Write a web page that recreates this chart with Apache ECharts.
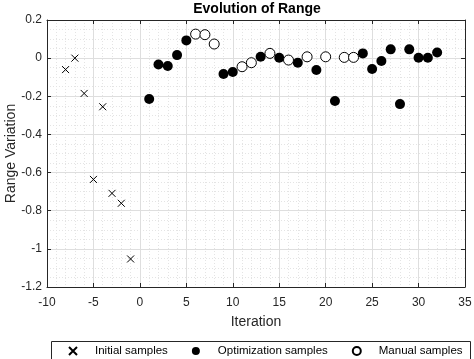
<!DOCTYPE html>
<html>
<head>
<meta charset="utf-8">
<script src="https://cdn.jsdelivr.net/npm/echarts@6/dist/echarts.min.js"></script>
<style>html,body{margin:0;padding:0;background:#fff}#c{width:474px;height:359px}</style>
</head>
<body>
<div id="c"></div>
<script>
var initX = [-8, -7, -6, -5, -4, -3, -2, -1];
var initY = [-0.06, 0.0, -0.185, -0.636, -0.255, -0.709, -0.761, -1.053];
var optX = [1, 2, 3, 4, 5, 9, 10, 13, 15, 17, 19, 21, 24, 25, 26, 27, 28, 29, 30, 31, 32];
var optY = [-0.214, -0.033, -0.041, 0.016, 0.093, -0.083, -0.073, 0.007, 0.002, -0.024, -0.062, -0.225, 0.025, -0.057, -0.015, 0.046, -0.241, 0.046, 0.002, 0.002, 0.030];
var manX = [6, 7, 8, 11, 12, 14, 16, 18, 20, 22, 23];
var manY = [0.126, 0.123, 0.074, -0.045, -0.024, 0.025, -0.010, 0.007, 0.007, 0.004, 0.004];
var seriesNames = ['Initial samples', 'Optimization samples', 'Manual samples'];
var titleText = 'Evolution of Range';
var xName = 'Iteration';
var yName = 'Range Variation';

function pairs(xs, ys) { return xs.map(function (x, i) { return [x, ys[i]]; }); }

var FONT = 'Liberation Sans, Arial, sans-serif';
var AX = '#262626';
var chart = echarts.init(document.getElementById('c'), null, { renderer: 'canvas' });

function xAxisDef(pos, labels) {
  return {
    type: 'value', position: pos, min: -10, max: 35, interval: 5,
    axisLine: { show: true, onZero: false, lineStyle: { color: AX, width: 1 } },
    axisTick: { show: true, inside: true, length: 4, lineStyle: { color: AX } },
    axisLabel: { show: labels, color: AX, fontSize: 12, fontFamily: FONT, margin: 10 },
    splitLine: { show: labels, lineStyle: { color: '#dedede', width: 1 } },
    minorTick: { show: false, splitNumber: 5 },
    minorSplitLine: { show: labels, lineStyle: { color: '#e4e4e4', type: [1, 2], width: 1 } },
    name: labels ? xName : '', nameLocation: 'middle', nameGap: 28, nameMoveOverlap: false,
    nameTextStyle: { color: AX, fontSize: 14, fontFamily: FONT }
  };
}
function yAxisDef(pos, labels) {
  return {
    type: 'value', position: pos, min: -1.2, max: 0.2, interval: 0.2,
    axisLine: { show: true, onZero: false, lineStyle: { color: AX, width: 1 } },
    axisTick: { show: true, inside: true, length: 4, lineStyle: { color: AX } },
    axisLabel: { show: labels, color: AX, fontSize: 12, fontFamily: FONT, margin: 5 },
    splitLine: { show: labels, lineStyle: { color: '#dedede', width: 1 } },
    minorTick: { show: false, splitNumber: 4 },
    minorSplitLine: { show: labels, lineStyle: { color: '#e4e4e4', type: [1, 2], width: 1 } },
    name: labels ? yName : '', nameLocation: 'middle', nameGap: 29, nameRotate: 90, nameMoveOverlap: false,
    nameTextStyle: { color: AX, fontSize: 14, fontFamily: FONT }
  };
}

var option = {
  backgroundColor: '#fff',
  animation: false,
  title: {
    text: titleText, left: 257, textAlign: 'center', top: 2, padding: 0,
    textStyle: { fontSize: 14, fontWeight: 'bold', color: '#000', fontFamily: FONT }
  },
  grid: { left: 47, right: 9, top: 20, bottom: 72, containLabel: false, outerBoundsMode: 'none' },
  xAxis: [xAxisDef('bottom', true), xAxisDef('top', false)],
  yAxis: [yAxisDef('left', true), yAxisDef('right', false)],
  legend: {
    left: 63, top: 340, itemWidth: 8, itemHeight: 8, itemGap: 24,
    data: seriesNames,
    textStyle: { fontSize: 11.5, color: '#000', fontFamily: FONT, padding: [0, 0, 0, 13] }
  },
  graphic: [{
    type: 'rect', left: 49, top: 339, shape: { width: 419, height: 30 },
    style: { fill: 'none', stroke: AX, lineWidth: 1 }, silent: true, z: 0
  }],
  series: [
    {
      name: seriesNames[0], type: 'scatter', data: pairs(initX, initY),
      symbol: 'path://M0,0L10,10M10,0L0,10', symbolSize: 7,
      itemStyle: { color: 'rgba(0,0,0,0)', borderColor: '#000', borderWidth: 1, opacity: 1 }
    },
    {
      name: seriesNames[1], type: 'scatter', data: pairs(optX, optY),
      symbol: 'circle', symbolSize: 10,
      itemStyle: { color: '#000', borderColor: '#000', borderWidth: 0, opacity: 1 }
    },
    {
      name: seriesNames[2], type: 'scatter', data: pairs(manX, manY),
      symbol: 'circle', symbolSize: 10,
      itemStyle: { color: '#fff', borderColor: '#000', borderWidth: 1, opacity: 1 }
    }
  ]
};
chart.setOption(option);
</script>
</body>
</html>
